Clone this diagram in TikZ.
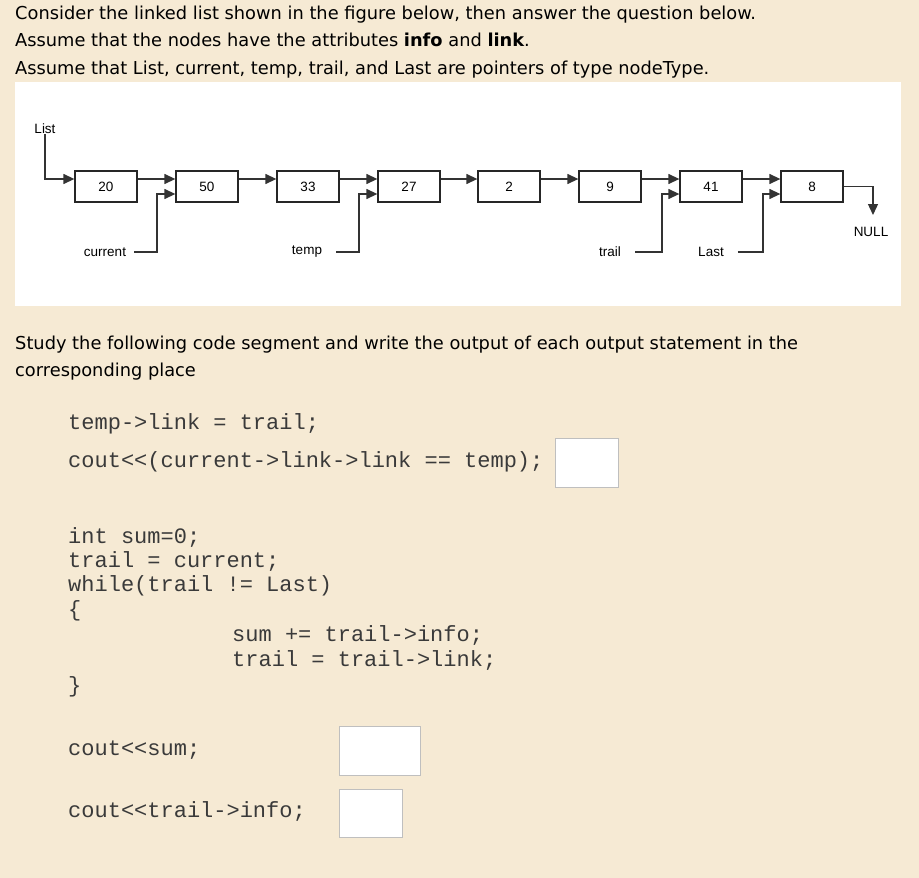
\documentclass[tikz,border=0pt]{standalone}
\usepackage{fontspec}
\setmainfont{DejaVu Sans}
\newfontfamily\codefont{Liberation Mono}
\newfontfamily\figfont{Liberation Sans}
\usetikzlibrary{arrows.meta}
\definecolor{pagebg}{HTML}{F6EAD4}
\definecolor{codecol}{HTML}{3A3A3A}
\tikzset{
  txt/.style={anchor=mid west,inner sep=0pt,font=\fontsize{17.8}{20}\selectfont,text=black},
  code/.style={anchor=mid west,inner sep=0pt,font=\codefont\fontsize{22}{24}\selectfont,text=codecol},
  cell/.style={draw=black!85,line width=1.3pt,minimum width=62pt,minimum height=31pt,inner sep=0pt,font=\figfont\fontsize{13.5}{15}\selectfont},
  lbl/.style={inner sep=0pt,font=\figfont\fontsize{13.5}{15}\selectfont},
  ptr/.style={line width=1.3pt,draw=black!80,-{Triangle[length=11pt,width=10pt]}},
  ans/.style={draw=black!25,fill=white,line width=0.8pt,inner sep=0pt}
}
\begin{document}
\begin{tikzpicture}[x=1pt,y=-1pt]
\useasboundingbox (0,0) rectangle (919,878);
\fill[pagebg] (0,0) rectangle (919,878);
\fill[white] (15,82) rectangle (901,306);
\node[txt] (t1) at (15,17) {Consider the linked list shown in the figure below, then answer the question below.};
\node[txt] (t2) at (15,44) {Assume that the nodes have the attributes \textbf{info} and \textbf{link}.};
\node[txt] (t3) at (15,72) {Assume that List, current, temp, trail, and Last are pointers of type nodeType.};
% cells
\foreach \v/\x [count=\i] in {20/106,50/207,33/308,27/409,2/509,9/610,41/711,8/812}
  \node[cell] (c\i) at (\x,186.5) {\v};
\foreach \i/\j in {1/2,2/3,3/4,4/5,5/6,6/7,7/8}
  \draw[ptr] (c\i.east |- 0,179) -- (c\j.west |- 0,179);
\node[lbl] (list) at (45,129) {List};
\draw[ptr] (list.south) |- (c1.west |- 0,179);
\node[lbl] (cur) at (105,252) {current};
\node[lbl] (tmp) at (307,252) {temp};
\node[lbl] (trl) at (610,252) {trail};
\node[lbl] (lst) at (711,252) {Last};
\draw[ptr] (cur.east)++(8,0) -- (157,252) |- (c2.west |- 0,194);
\draw[ptr] (tmp.east)++(14,0) -- (359,252) |- (c4.west |- 0,194);
\draw[ptr] (trl.east)++(14,0) -- (662,252) |- (c7.west |- 0,194);
\draw[ptr] (lst.east)++(14,0) -- (763,252) |- (c8.west |- 0,194);
\node[lbl] (null) at (871,232) {NULL};
\draw[ptr] (c8.east) -- (873,186.5) -- (873,215);
% text
\node[txt] (s1) at (15,347) {Study the following code segment and write the output of each output statement in the};
\node[txt] (s2) at (15,374) {corresponding place};
\node[code] (l1) at (68,427) {temp->link = trail;};
\node[code] (l2) at (68,465) {cout<<(current->link->link == temp);};
\node[code] (l3) at (68,541) {int sum=0;};
\node[code] (l4) at (68,565) {trail = current;};
\node[code] (l5) at (68,589) {while(trail != Last)};
\node[code] (l6) at (68,614) {\{};
\node[code] (l7) at (232,639) {sum += trail->info;};
\node[code] (l8) at (232,664) {trail = trail->link;};
\node[code] (l9) at (68,690) {\}};
\node[code] (l10) at (68,753) {cout<<sum;};
\node[code] (l11) at (68,815) {cout<<trail->info;};
\node[ans,minimum width=63pt,minimum height=49pt] (a1) at (586.5,462.5) {};
\node[ans,minimum width=81pt,minimum height=49pt] (a2) at (379.5,750.5) {};
\node[ans,minimum width=63pt,minimum height=48pt] (a3) at (370.5,813) {};
\end{tikzpicture}
\end{document}
